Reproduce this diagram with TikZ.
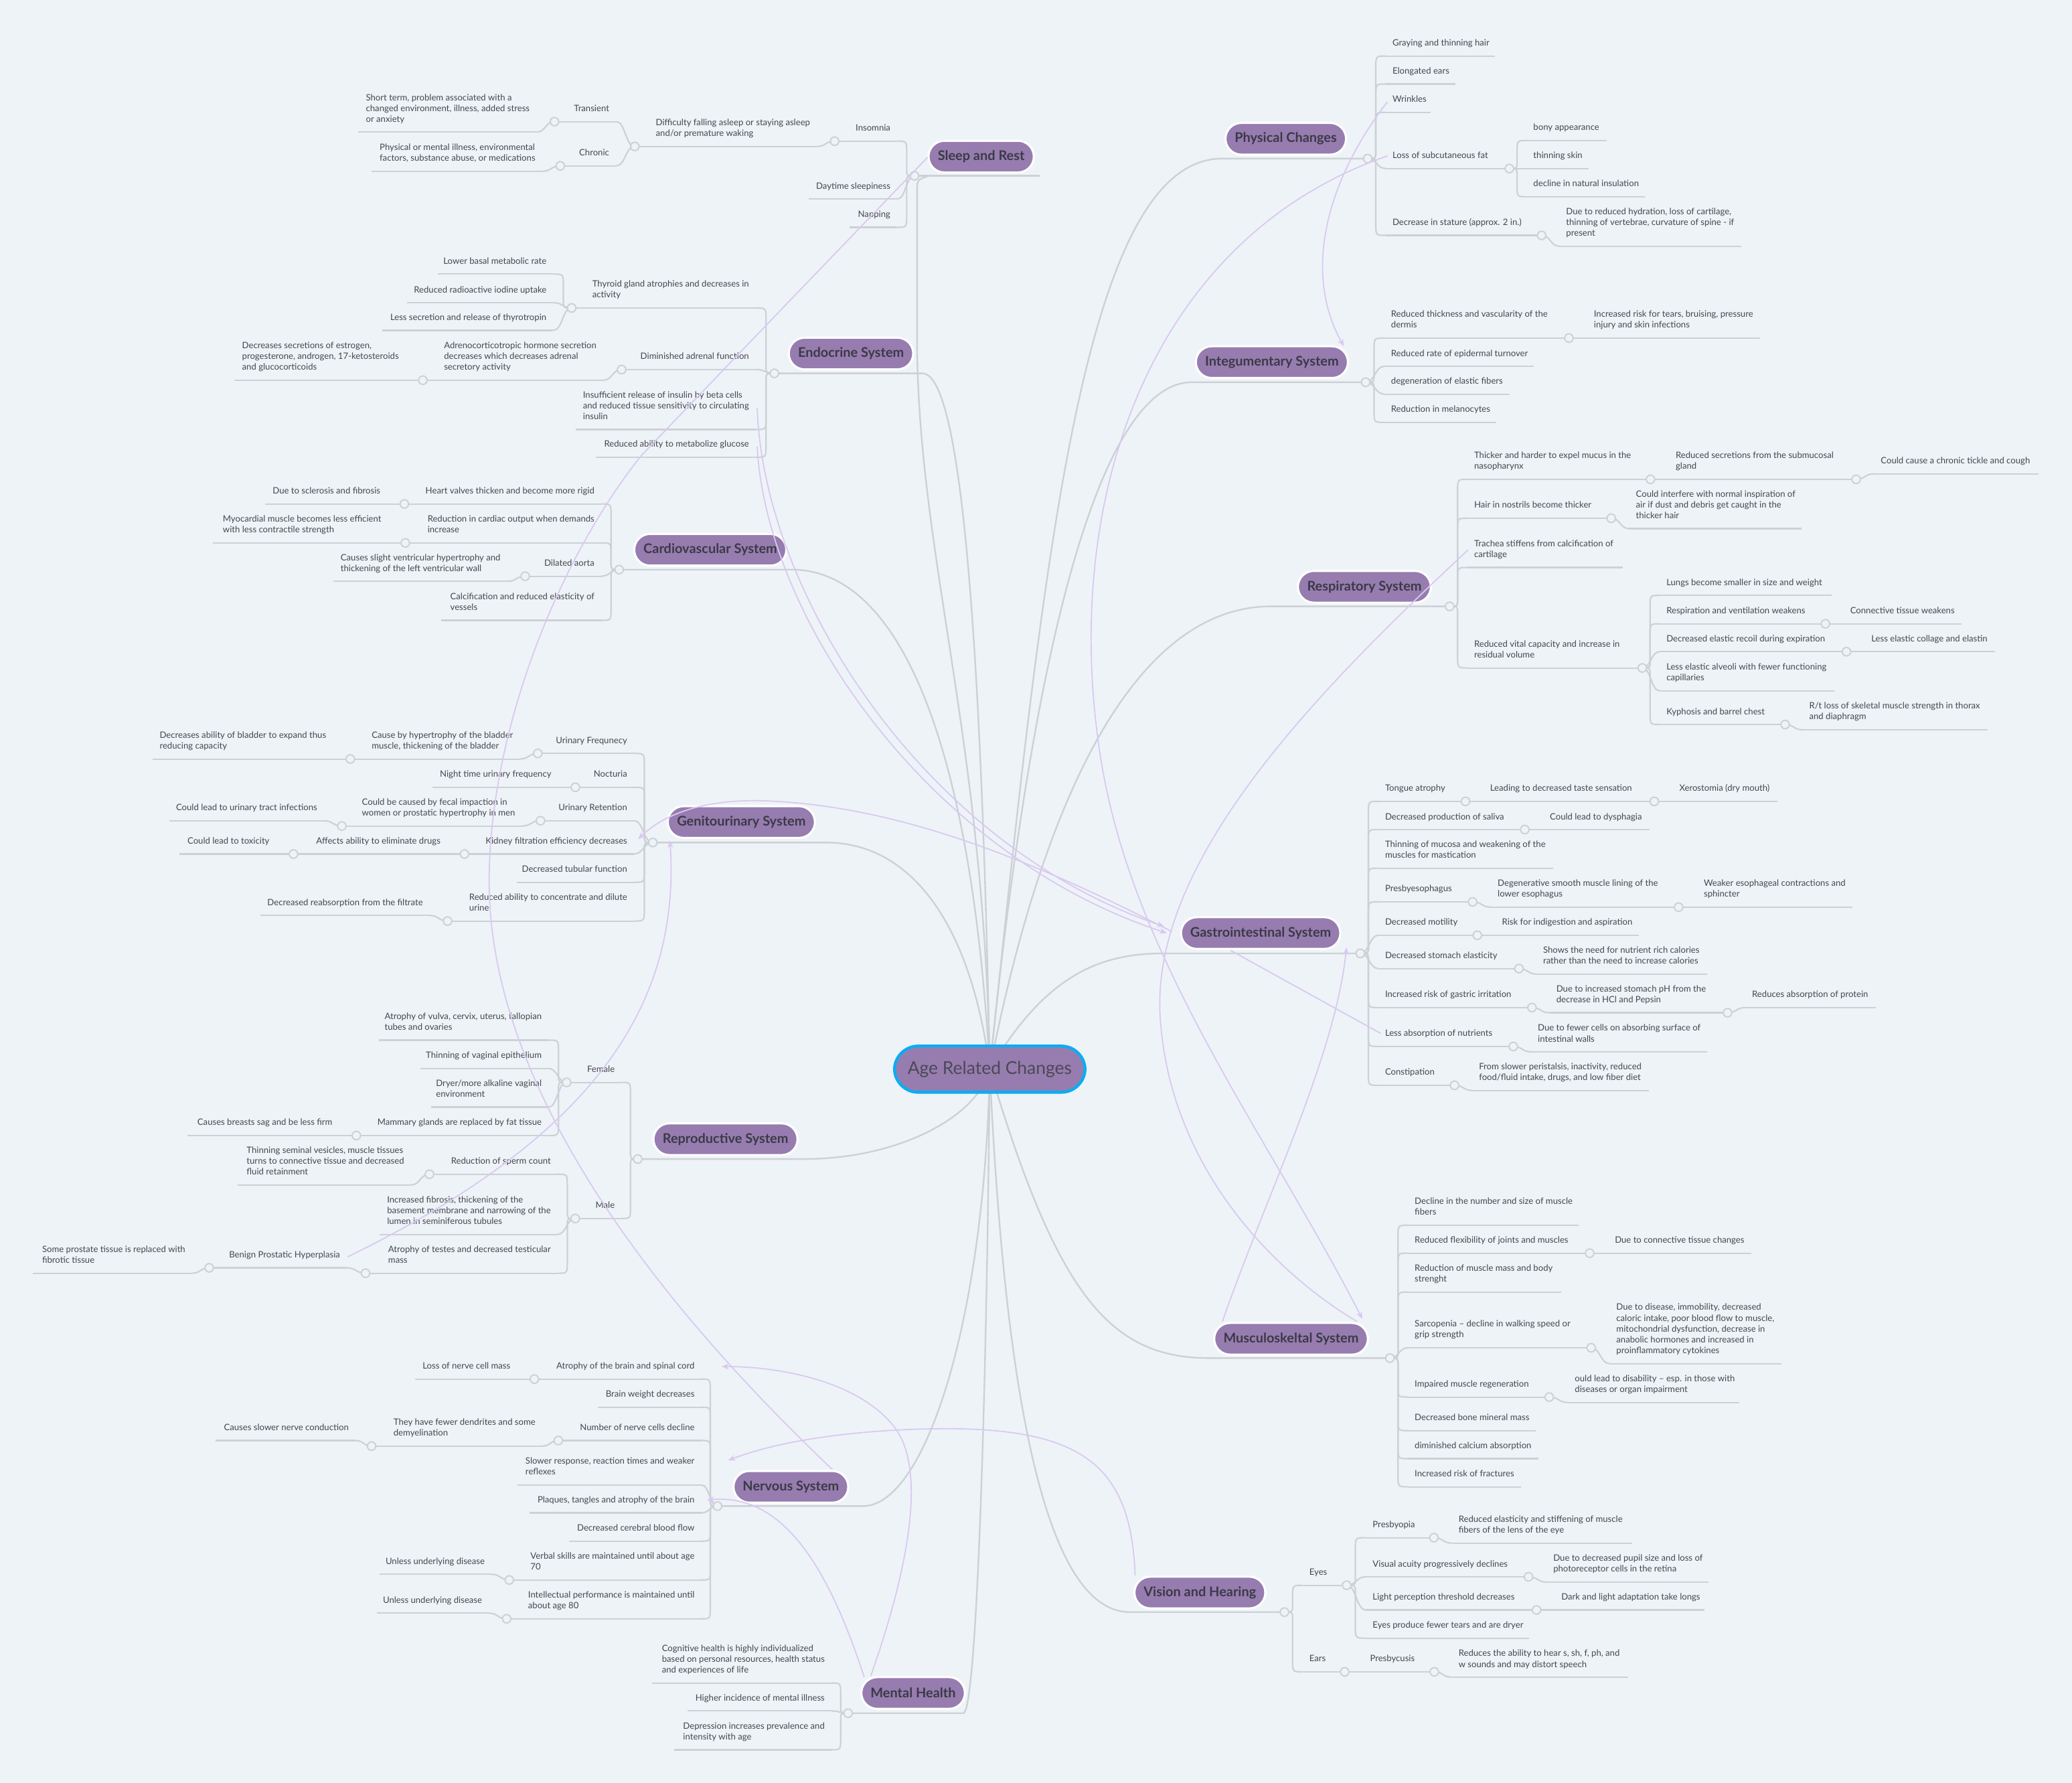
\documentclass[tikz,border=0pt]{standalone}
\usepackage{fontspec}
\setmainfont{Lato}
\usetikzlibrary{arrows.meta}
\definecolor{bgc}{HTML}{EEF3F7}
\definecolor{lnc}{HTML}{CDD1D5}
\definecolor{relc}{HTML}{D9C9F0}
\definecolor{pillc}{HTML}{977CB0}
\definecolor{pilltxt}{HTML}{3A3A46}
\definecolor{txtc}{HTML}{46464E}
\definecolor{cblue}{HTML}{0AADF2}
\definecolor{ctxt}{HTML}{4A4A55}
\newcounter{tn}
\tikzset{
 br/.style={draw=lnc, line width=1.1pt},
 mainln/.style={draw=lnc, line width=1.2pt},
 jc/.style={draw=lnc, fill=bgc, line width=1pt},
 txt/.style={inner sep=0pt, text depth=2pt, align=left, text=txtc, font=\fontsize{6.65}{8.2}\selectfont},
 pill/.style={rounded corners=12pt, fill=pillc, draw=white, line width=1.6pt, text=pilltxt, inner xsep=7pt, inner ysep=0pt, minimum height=24pt, font=\fontsize{10.1}{11}\selectfont\bfseries},
 rootn/.style={rounded corners=18pt, fill=pillc, draw=cblue, line width=2.2pt, text=ctxt, inner xsep=10pt, inner ysep=0pt, minimum height=35pt, font=\fontsize{13.4}{15}\selectfont},
 rel/.style={draw=relc, line width=0.9pt},
 rela/.style={rel, -{Stealth[length=5.5pt,width=4.5pt]}}
}
\newcommand\brc[4]{%
  \pgfmathsetmacro\bdy{(#4)-(#2)}%
  \pgfmathsetmacro\bady{abs(\bdy)}%
  \ifdim\bady pt<20pt\relax
    \pgfmathsetmacro\bmx{((#1)+(#3))/2}%
    \draw[br] (#1,#2) .. controls (\bmx,#2) and (\bmx,#4) .. (#3,#4);%
  \else
    \pgfmathsetmacro\bsg{\bdy/\bady}%
    \pgfmathsetmacro\bvx{(#1)+0.45*((#3)-(#1))}%
    \pgfmathsetmacro\bya{(#2)+\bsg*5}%
    \pgfmathsetmacro\byb{(#4)-\bsg*9}%
    \draw[br] (#1,#2) .. controls (\bvx,#2) .. (\bvx,\bya) -- (\bvx,\byb) .. controls (\bvx,#4) .. (#3,#4);%
  \fi}
\newcommand\RT[6]{%
  \brc{#1}{#2}{#3}{#4}%
  \draw[br] (#3,#4) -- (#5,#4);%
  \stepcounter{tn}%
  \node[txt,anchor=south west] (t\arabic{tn}) at ({#3+5},{#4-5.4}) {#6};}
\newcommand\LT[6]{%
  \brc{#1}{#2}{#5}{#4}%
  \draw[br] (#3,#4) -- (#5,#4);%
  \stepcounter{tn}%
  \node[txt,anchor=south east] (t\arabic{tn}) at ({#5-5},{#4-5.4}) {#6};}
\newcommand\J[2]{\draw[jc] (#1,#2) circle[radius=3.2pt];}
\begin{document}
\begin{tikzpicture}[x=1pt,y=-1pt]
\fill[bgc] (0,0) rectangle (1568,1349);
\useasboundingbox (0,0) rectangle (1568,1349);
\coordinate (rootc) at (749,809);
% ---------- main connectors ----------
\draw[mainln] (rootc) .. controls (745,560) and (695,420) .. (694,260) -- (694,145) .. controls (694,136) .. (703,133);
\draw[mainln] (692,133) -- (787,133);
\draw[mainln] (rootc) .. controls (742,450) and (725,282.5) .. (698,282.5) -- (586,282.5);
\draw[mainln] (rootc) .. controls (735,560) and (680,431) .. (599,431) -- (468.5,431);
\draw[mainln] (rootc) .. controls (735,700) and (690,637.5) .. (625,637.5) -- (494,637.5);
\draw[mainln] (rootc) .. controls (740,845) and (680,877) .. (608,877) -- (482.6,877);
\draw[mainln] (rootc) .. controls (745,1000) and (700,1139.6) .. (653,1139.6) -- (543,1139.6);
\draw[mainln] (rootc) .. controls (746,1100) and (738,1296.3) .. (729,1296.3) -- (641.8,1296.3);
\draw[mainln] (rootc) .. controls (790,420) and (820,120) .. (925,120) -- (1035,120);
\draw[mainln] (rootc) .. controls (785,450) and (840,289.2) .. (902,289.2) -- (1033.5,289.2);
\draw[mainln] (rootc) .. controls (790,600) and (860,458.8) .. (962,458.8) -- (1097,458.8);
\draw[mainln] (rootc) .. controls (790,740) and (830,721.4) .. (880,721.4) -- (1029.4,721.4);
\draw[mainln] (rootc) .. controls (800,980) and (840,1027.6) .. (915,1027.6) -- (1051.8,1027.6);
\draw[mainln] (rootc) .. controls (760,1050) and (790,1219.8) .. (855,1219.8) -- (972,1219.8);
% ---------- Sleep and Rest ----------
\LT{692}{133}{631.6}{106.8}{679}{Insomnia}
\LT{692}{133}{612}{150.6}{679}{Daytime sleepiness}
\LT{692}{133}{643}{172}{679}{Napping}
\LT{631.6}{106.8}{480.4}{110.8}{618.2}{Difficulty falling asleep or staying asleep\\and/or premature waking}
\LT{480.4}{110.8}{419.6}{92}{466.2}{Transient}
\LT{480.4}{110.8}{424}{125.5}{466.2}{Chronic}
\LT{419.6}{92}{270.9}{100}{406}{Short term, problem associated with a\\changed environment, illness, added stress\\or anxiety}
\LT{424}{125.5}{281}{129.6}{410.3}{Physical or mental illness, environmental\\factors, substance abuse, or medications}
% ---------- Endocrine ----------
\LT{586}{282.5}{432.6}{233}{572}{Thyroid gland atrophies and decreases in\\activity}
\LT{586}{282.5}{470.4}{279.6}{572}{Diminished adrenal function}
\LT{586}{282.5}{435.5}{325}{572}{Insufficient release of insulin by beta cells\\and reduced tissue sensitivity to circulating\\insulin}
\LT{586}{282.5}{451}{346}{572}{Reduced ability to metabolize glucose}
\LT{432.6}{233}{331.3}{207.4}{418.7}{Lower basal metabolic rate}
\LT{432.6}{233}{307.8}{229}{418.7}{Reduced radioactive iodine uptake}
\LT{432.6}{233}{289.3}{250}{418.7}{Less secretion and release of thyrotropin}
\LT{470.4}{279.6}{320}{287.7}{456.5}{Adrenocorticotropic hormone secretion\\decreases which decreases adrenal\\secretory activity}
\LT{320}{287.7}{177.2}{287.7}{307}{Decreases secretions of estrogen,\\progesterone, androgen, 17-ketosteroids\\and glucocorticoids}
% ---------- Cardiovascular ----------
\LT{468.5}{431}{306}{381.3}{455}{Heart valves thicken and become more rigid}
\LT{468.5}{431}{306.7}{410.8}{455}{Reduction in cardiac output when demands\\increase}
\LT{468.5}{431}{397.4}{436}{455}{Dilated aorta}
\LT{468.5}{431}{334}{469.4}{455}{Calcification and reduced elasticity of\\vessels}
\LT{306}{381.3}{200.8}{381.3}{293}{Due to sclerosis and fibrosis}
\LT{306.7}{410.8}{161}{410.8}{293.7}{Myocardial muscle becomes less efficient\\with less contractile strength}
\LT{397.4}{436}{252.3}{439.9}{383.9}{Causes slight ventricular hypertrophy and\\thickening of the left ventricular wall}
% ---------- Genitourinary ----------
\LT{494}{637.5}{407}{570.1}{479.8}{Urinary Frequnecy}
\LT{494}{637.5}{435.4}{595.7}{479.8}{Nocturia}
\LT{494}{637.5}{409}{621}{479.8}{Urinary Retention}
\LT{494}{637.5}{351.5}{646.2}{479.8}{Kidney filtration efficiency decreases}
\LT{494}{637.5}{391}{667.6}{479.8}{Decreased tubular function}
\LT{494}{637.5}{338.7}{696.9}{479.8}{Reduced ability to concentrate and dilute\\urine}
\LT{407}{570.1}{265.1}{574.3}{393.5}{Cause by hypertrophy of the bladder\\muscle, thickening of the bladder}
\LT{265.1}{574.3}{115.5}{574.3}{252}{Decreases ability of bladder to expand thus\\reducing capacity}
\LT{435.4}{595.7}{327.3}{595.7}{422.4}{Night time urinary frequency}
\LT{409}{621}{258.7}{625}{395}{Could be caused by fecal impaction in\\women or prostatic hypertrophy in men}
\LT{258.7}{625}{128}{621}{245.2}{Could lead to urinary tract infections}
\LT{351.5}{646.2}{222.1}{646.2}{338.5}{Affects ability to eliminate drugs}
\LT{222.1}{646.2}{136}{646.2}{209.1}{Could lead to toxicity}
\LT{338.7}{696.9}{197.3}{692.7}{325.2}{Decreased reabsorption from the filtrate}
% ---------- Reproductive ----------
\LT{482.6}{877}{428.8}{819}{470.4}{Female}
\LT{482.6}{877}{435.3}{922}{470.4}{Male}
\LT{428.8}{819}{286.7}{787}{415.1}{Atrophy of vulva, cervix, uterus, fallopian\\tubes and ovaries}
\LT{428.8}{819}{318.2}{808.5}{415.1}{Thinning of vaginal epithelium}
\LT{428.8}{819}{326.3}{837.7}{415.1}{Dryer/more alkaline vaginal\\environment}
\LT{428.8}{819}{269.7}{859.2}{415.1}{Mammary glands are replaced by fat tissue}
\LT{269.7}{859.2}{142.1}{859.2}{256.7}{Causes breasts sag and be less firm}
\LT{435.3}{922}{325}{888.5}{422}{Reduction of sperm count}
\LT{325}{888.5}{179.7}{896.6}{311}{Thinning seminal vesicles, muscle tissues\\turns to connective tissue and decreased\\fluid retainment}
\LT{435.3}{922}{287.5}{934}{422}{Increased fibrosis, thickening of the\\basement membrane and narrowing of the\\lumen in seminiferous tubules}
\LT{435.3}{922}{276.6}{963.4}{422}{Atrophy of testes and decreased testicular\\mass}
\LT{276.6}{963.4}{158.3}{959.3}{262.5}{Benign Prostatic Hyperplasia}
\LT{158.3}{959.3}{25}{963.4}{145.4}{Some prostate tissue is replaced with\\fibrotic tissue}
% ---------- Nervous ----------
\LT{543}{1139.6}{404.4}{1043.5}{530.8}{Atrophy of the brain and spinal cord}
\LT{543}{1139.6}{452.4}{1064.8}{530.8}{Brain weight decreases}
\LT{543}{1139.6}{422.5}{1090}{530.8}{Number of nerve cells decline}
\LT{543}{1139.6}{391.5}{1123.6}{530.8}{Slower response, reaction times and weaker\\reflexes}
\LT{543}{1139.6}{400.7}{1144.7}{530.8}{Plaques, tangles and atrophy of the brain}
\LT{543}{1139.6}{430.6}{1166.1}{530.8}{Decreased cerebral blood flow}
\LT{543}{1139.6}{385.4}{1195.5}{530.8}{Verbal skills are maintained until about age\\70}
\LT{543}{1139.6}{383.4}{1224.9}{530.8}{Intellectual performance is maintained until\\about age 80}
\LT{404.4}{1043.5}{314.3}{1043.5}{391.4}{Loss of nerve cell mass}
\LT{422.5}{1090}{281.2}{1094.2}{410.4}{They have fewer dendrites and some\\demyelination}
\LT{281.2}{1094.2}{162.9}{1090}{269.1}{Causes slower nerve conduction}
\LT{385.4}{1195.5}{287.3}{1191.2}{372}{Unless underlying disease}
\LT{383.4}{1224.9}{285.3}{1220.6}{370}{Unless underlying disease}
% ---------- Mental Health ----------
\LT{641.8}{1296.3}{493.6}{1273.5}{629.3}{Cognitive health is highly individualized\\based on personal resources, health status\\and experiences of life}
\LT{641.8}{1296.3}{520.3}{1294.6}{629.3}{Higher incidence of mental illness}
\LT{641.8}{1296.3}{510.2}{1324}{629.3}{Depression increases prevalence and\\intensity with age}
% ---------- Physical Changes ----------
\RT{1035}{120}{1048.6}{42.4}{1131.4}{Graying and thinning hair}
\RT{1035}{120}{1048.6}{63.6}{1101.5}{Elongated ears}
\RT{1035}{120}{1048.6}{85}{1082.6}{Wrinkles}
\RT{1035}{120}{1048.6}{127.5}{1142.2}{Loss of subcutaneous fat}
\RT{1035}{120}{1048.6}{178.1}{1166.6}{Decrease in stature (approx. 2 in.)}
\RT{1142.2}{127.5}{1155.2}{106.3}{1215.8}{bony appearance}
\RT{1142.2}{127.5}{1155.2}{127.5}{1202}{thinning skin}
\RT{1142.2}{127.5}{1155.2}{148.9}{1244.9}{decline in natural insulation}
\RT{1166.6}{178.1}{1180}{186.3}{1317.5}{Due to reduced hydration, loss of cartilage,\\thinning of vertebrae, curvature of spine - if\\present}
% ---------- Integumentary ----------
\RT{1033.5}{289.2}{1047.5}{255.8}{1187.3}{Reduced thickness and vascularity of the\\dermis}
\RT{1187.3}{255.8}{1201}{255.8}{1332.1}{Increased risk for tears, bruising, pressure\\injury and skin infections}
\RT{1033.5}{289.2}{1047.5}{277.2}{1160.5}{Reduced rate of epidermal turnover}
\RT{1033.5}{289.2}{1047.5}{298.2}{1142.5}{degeneration of elastic fibers}
\RT{1033.5}{289.2}{1047.5}{319.6}{1132.3}{Reduction in melanocytes}
% ---------- Respiratory ----------
\RT{1097}{458.8}{1110.4}{362.7}{1249}{Thicker and harder to expel mucus in the\\nasopharynx}
\RT{1249}{362.7}{1262.9}{362.7}{1404.6}{Reduced secretions from the submucosal\\gland}
\RT{1404.6}{362.7}{1418.1}{358.5}{1542.8}{Could cause a chronic tickle and cough}
\RT{1097}{458.8}{1110.4}{392.1}{1219.3}{Hair in nostrils become thicker}
\RT{1219.3}{392.1}{1232.8}{400}{1363.3}{Could interfere with normal inspiration of\\air if dust and debris get caught in the\\thicker hair}
\RT{1097}{458.8}{1110.4}{429.4}{1228}{Trachea stiffens from calcification of\\cartilage}
\RT{1097}{458.8}{1110.4}{505.4}{1242.8}{Reduced vital capacity and increase in\\residual volume}
\RT{1242.8}{505.4}{1255.9}{450.5}{1386}{Lungs become smaller in size and weight}
\RT{1242.8}{505.4}{1255.9}{472}{1381.4}{Respiration and ventilation weakens}
\RT{1381.4}{472}{1395}{472}{1484.5}{Connective tissue weakens}
\RT{1242.8}{505.4}{1255.9}{493.1}{1397.3}{Decreased elastic recoil during expiration}
\RT{1397.3}{493.1}{1411}{493.1}{1509.6}{Less elastic collage and elastin}
\RT{1242.8}{505.4}{1255.9}{522.7}{1388}{Less elastic alveoli with fewer functioning\\capillaries}
\RT{1242.8}{505.4}{1255.9}{548.2}{1350.9}{Kyphosis and barrel chest}
\RT{1350.9}{548.2}{1364}{552.2}{1504.2}{R/t loss of skeletal muscle strength in thorax\\and diaphragm}
% ---------- Gastrointestinal ----------
\RT{1029.4}{721.4}{1043}{606.4}{1109}{Tongue atrophy}
\RT{1109}{606.4}{1122.5}{606.4}{1251.9}{Leading to decreased taste sensation}
\RT{1251.9}{606.4}{1265.7}{606.4}{1345.3}{Xerostomia (dry mouth)}
\RT{1029.4}{721.4}{1043}{627.7}{1153.9}{Decreased production of saliva}
\RT{1153.9}{627.7}{1167.7}{627.7}{1248.3}{Could lead to dysphagia}
\RT{1029.4}{721.4}{1043}{656.9}{1175.2}{Thinning of mucosa and weakening of the\\muscles for mastication}
\RT{1029.4}{721.4}{1043}{682.4}{1114.4}{Presbyesophagus}
\RT{1114.4}{682.4}{1128.2}{686.4}{1270.3}{Degenerative smooth muscle lining of the\\lower esophagus}
\RT{1270.3}{686.4}{1284.2}{686.4}{1402}{Weaker esophageal contractions and\\sphincter}
\RT{1029.4}{721.4}{1043}{707.7}{1118}{Decreased motility}
\RT{1118}{707.7}{1131.5}{707.7}{1240.3}{Risk for indigestion and aspiration}
\RT{1029.4}{721.4}{1043}{732.9}{1149.5}{Decreased stomach elasticity}
\RT{1149.5}{732.9}{1162.6}{737}{1291.7}{Shows the need for nutrient rich calories\\rather than the need to increase calories}
\RT{1029.4}{721.4}{1043}{762.4}{1159.3}{Increased risk of gastric irritation}
\RT{1159.3}{762.4}{1172.6}{766.3}{1307.3}{Due to increased stomach pH from the\\decrease in HCl and Pepsin}
\RT{1307.3}{766.3}{1320.7}{762.4}{1419.4}{Reduces absorption of protein}
\RT{1029.4}{721.4}{1043}{791.8}{1145.2}{Less absorption of nutrients}
\RT{1145.2}{791.8}{1158.6}{795.9}{1291.7}{Due to fewer cells on absorbing surface of\\intestinal walls}
\RT{1029.4}{721.4}{1043}{821.2}{1100.7}{Constipation}
\RT{1100.7}{821.2}{1114.1}{825.1}{1247.6}{From slower peristalsis, inactivity, reduced\\food/fluid intake, drugs, and low fiber diet}
% ---------- Musculoskeletal ----------
\RT{1051.8}{1027.6}{1065.4}{927.1}{1194.8}{Decline in the number and size of muscle\\fibers}
\RT{1051.8}{1027.6}{1065.4}{948.2}{1203}{Reduced flexibility of joints and muscles}
\RT{1203}{948.2}{1216.9}{948.2}{1325.4}{Due to connective tissue changes}
\RT{1051.8}{1027.6}{1065.4}{977.7}{1181.2}{Reduction of muscle mass and body\\strenght}
\RT{1051.8}{1027.6}{1065.4}{1019.8}{1204.1}{Sarcopenia – decline in walking speed or\\grip strength}
\RT{1204.1}{1019.8}{1218}{1031.8}{1348.1}{Due to disease, immobility, decreased\\caloric intake, poor blood flow to muscle,\\mitochondrial dysfunction, decrease in\\anabolic hormones and increased in\\proinflammatory cytokines}
\RT{1051.8}{1027.6}{1065.4}{1057.1}{1172.4}{Impaired muscle regeneration}
\RT{1172.4}{1057.1}{1186.6}{1061.2}{1316.1}{ould lead to disability – esp. in those with\\diseases or organ impairment}
\RT{1051.8}{1027.6}{1065.4}{1082.5}{1162.3}{Decreased bone mineral mass}
\RT{1051.8}{1027.6}{1065.4}{1103.7}{1164.3}{diminished calcium absorption}
\RT{1051.8}{1027.6}{1065.4}{1125}{1151.2}{Increased risk of fractures}
% ---------- Vision and Hearing ----------
\RT{972}{1219.8}{985.7}{1199.5}{1019.1}{Eyes}
\RT{972}{1219.8}{985.7}{1265}{1017.6}{Ears}
\RT{1019.1}{1199.5}{1033.6}{1163.5}{1085.1}{Presbyopia}
\RT{1085.1}{1163.5}{1098.6}{1167.6}{1235.2}{Reduced elasticity and stiffening of muscle\\fibers of the lens of the eye}
\RT{1019.1}{1199.5}{1033.6}{1193.1}{1156.7}{Visual acuity progressively declines}
\RT{1156.7}{1193.1}{1170.3}{1197.1}{1293}{Due to decreased pupil size and loss of\\photoreceptor cells in the retina}
\RT{1019.1}{1199.5}{1033.6}{1218.2}{1162.8}{Light perception threshold decreases}
\RT{1162.8}{1218.2}{1176.4}{1218.2}{1290}{Dark and light adaptation take longs}
\RT{1019.1}{1199.5}{1033.6}{1239.5}{1157.2}{Eyes produce fewer tears and are dryer}
\RT{1017.6}{1265}{1031.6}{1265}{1085.4}{Presbycusis}
\RT{1085.4}{1265}{1098.6}{1269.1}{1232}{Reduces the ability to hear s, sh, f, ph, and\\w sounds and may distort speech}
% ---------- junction circles ----------
\foreach \a/\b in {692/133,631.6/106.8,480.4/110.8,419.6/92,424/125.5,
  586/282.5,432.6/233,470.4/279.6,320/287.7,
  468.5/431,306/381.3,306.7/410.8,397.4/436,
  494/637.5,407/570.1,265.1/574.3,435.4/595.7,409/621,258.7/625,351.5/646.2,222.1/646.2,338.7/696.9,
  482.6/877,428.8/819,269.7/859.2,435.3/922,325/888.5,276.6/963.4,158.3/959.3,
  543/1139.6,404.4/1043.5,422.5/1090,281.2/1094.2,385.4/1195.5,383.4/1224.9,
  641.8/1296.3,
  1035/120,1142.2/127.5,1166.6/178.1,
  1033.5/289.2,1187.3/255.8,
  1097/458.8,1249/362.7,1404.6/362.7,1219.3/392.1,1242.8/505.4,1381.4/472,1397.3/493.1,1350.9/548.2,
  1029.4/721.4,1109/606.4,1251.9/606.4,1153.9/627.7,1114.4/682.4,1270.3/686.4,1118/707.7,1149.5/732.9,1159.3/762.4,1307.3/766.3,1145.2/791.8,1100.7/821.2,
  1051.8/1027.6,1203/948.2,1204.1/1019.8,1172.4/1057.1,
  972/1219.8,1019.1/1199.5,1017.6/1265,1085.1/1163.5,1156.7/1193.1,1162.8/1218.2,1085.4/1265}
  {\J{\a}{\b}}
% ---------- main topics ----------
\node[pill] (sleep) at (742.5,118.5) {Sleep and Rest};
\node[pill] (endo) at (644,267.5) {Endocrine System};
\node[pill] (cardio) at (537.5,416) {Cardiovascular System};
\node[pill] (genito) at (561,622) {Genitourinary System};
\node[pill] (repro) at (549,862) {Reproductive System};
\node[pill] (nerv) at (598.5,1125) {Nervous System};
\node[pill] (mental) at (691,1281) {Mental Health};
\node[pill] (phys) at (973,105) {Physical Changes};
\node[pill] (integ) at (962.5,274) {Integumentary System};
\node[pill] (resp) at (1032.5,444) {Respiratory System};
\node[pill] (gi) at (954,706) {Gastrointestinal System};
\node[pill] (musc) at (977,1013) {Musculoskeltal System};
\node[pill] (vis) at (908,1205) {Vision and Hearing};
% ---------- relationship lines ----------
\draw[rel] (702,119) .. controls (600,225) .. (485,345) .. controls (410,440) and (360,590) .. (372,700) .. controls (385,820) and (470,960) .. (630,1112);
\draw[rela] (263,951) .. controls (450,860) and (515,760) .. (507,636);
\draw[rela] (887,705) .. controls (780,650) and (680,610) .. (580,606) .. controls (530,604) and (500,618) .. (483,635);
\draw[rela] (573,309) .. controls (578,450) and (700,640) .. (881,701);
\draw[rela] (573,338) .. controls (580,470) and (705,648) .. (883,706);
\draw[rela] (654,1269) .. controls (625,1180) and (590,1130) .. (535,1135);
\draw[rela] (659,1268) .. controls (690,1180) and (700,1110) .. (677,1080) .. controls (650,1045) and (590,1034) .. (546,1034);
\draw[rela] (859,1192) .. controls (856,1110) and (820,1082) .. (720,1081) .. controls (650,1081) and (590,1090) .. (551,1105);
\draw[rela] (1050,77) .. controls (1005,135) and (985,205) .. (1017,262);
\draw[rela] (1050,118) .. controls (870,180) and (800,380) .. (834,580) .. controls (860,730) and (960,860) .. (1031,998);
\draw[rel] (1111,416) .. controls (1000,520) and (870,650) .. (878,770) .. controls (885,880) and (960,960) .. (1027,1000);
\draw[rel] (931,719) -- (1045,782);
\draw[rela] (925,1000) .. controls (960,900) and (1010,800) .. (1019,717);
% ---------- root ----------
\node[rootn] (root) at (rootc) {Age Related Changes};
\end{tikzpicture}
\end{document}
